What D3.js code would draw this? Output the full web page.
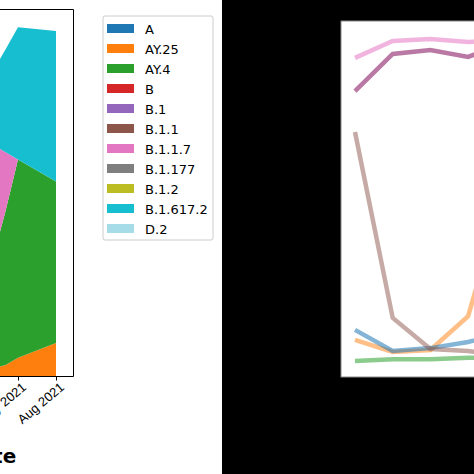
<!DOCTYPE html>
<html><head><meta charset="utf-8">
<script src="https://cdn.jsdelivr.net/npm/d3@7"></script>
<style>body{margin:0;background:#000}svg{display:block;font-family:"DejaVu Sans",sans-serif}</style>
</head><body><svg id="c" width="474" height="474"></svg>
<script>
// Left panel: stacked areas (cropped)
const lineages = ["A","AY.25","AY.4","B","B.1","B.1.1","B.1.1.7","B.1.177","B.1.2","B.1.617.2","D.2"];
const colors = ["#1f77b4","#ff7f0e","#2ca02c","#d62728","#9467bd","#8c564b","#e377c2","#7f7f7f","#bcbd22","#17becf","#a6dce8"];
const dates = ["2021-03-01","2021-04-01","2021-05-01","2021-08-01"];
const valA     = [0,0,0,0];
const valAY25  = [2,3,5,9];
const valAY4   = [30,42,54,44];
const valB     = [0,0,0,0];
const valB1    = [0,0,0,0];
const valB11   = [0,0,0,0];
const valB117  = [31,16,0,0];
const valB1177 = [0,0,0,0];
const valB12   = [0,0,0,0];
const valB16172= [20,28,36,41];
const valD2    = [0,0,0,0];
const tickDates = ["2021-02-01","2021-05-01","2021-08-01"];
const tickLabels = ["Feb 2021","May 2021","Aug 2021"];

// Right panel: lines (cropped)
const rIdx = [0,1,2,3,4];
const rLightPink = [94.5,99.7,100.3,99.4,100];
const rDarkPink  = [84.3,95.7,96.9,94.8,99];
const rBrown     = [71.7,14.5,4.9,4.3,3];
const rBlue      = [10.8,4.3,5.2,7.1,10];
const rOrange    = [7.7,4.0,4.6,15,55];
const rGreen     = [1.2,1.8,1.8,2.2,2.5];

const svg = d3.select("#c");
svg.append("rect").attr("x",0).attr("y",0).attr("width",222).attr("height",474).attr("fill","#fff");

const parse = d3.timeParse("%Y-%m-%d");
const x = d3.scaleTime().domain([parse("2021-05-01"),parse("2021-08-01")]).range([18,56]);
const y = d3.scaleLinear().domain([0,100]).range([376,9]);
const series = [valA,valAY25,valAY4,valB,valB1,valB11,valB117,valB1177,valB12,valB16172,valD2];
const rows = dates.map((d,i)=>{const o={date:parse(d)};lineages.forEach((l,j)=>o[l]=series[j][i]);return o;});
const stack = d3.stack().keys(lineages)(rows);
const gL = svg.append("g");
gL.append("defs").append("clipPath").attr("id","clipL").append("rect").attr("x",0).attr("y",9).attr("width",73).attr("height",367);
const area = d3.area().x(d=>x(d.data.date)).y0(d=>y(d[0])).y1(d=>y(d[1]));
gL.append("g").attr("clip-path","url(#clipL)").selectAll("path").data(stack).join("path")
  .attr("d",area).attr("fill",(d,i)=>colors[i]);
gL.append("path").attr("d","M0,9.5H73.5V376.5H0").attr("fill","none").attr("stroke","#000").attr("stroke-width",1);
const ax = d3.axisBottom(x).tickValues(tickDates.map(parse)).tickFormat((d,i)=>tickLabels[i]).tickSize(4);
const axG = gL.append("g").attr("transform","translate(0,376.5)").call(ax);
axG.select(".domain").remove();
axG.selectAll("text").attr("font-size",13).attr("text-anchor","end").attr("dx","-0.1em").attr("dy","0.6em")
  .attr("transform","rotate(-40)").attr("fill","#000");
gL.append("text").attr("x",-37).attr("y",463).attr("font-size",20).attr("font-weight","bold").text("Date");

// legend
const lg = svg.append("g").attr("transform","translate(103,16)");
lg.append("rect").attr("x",0).attr("y",0).attr("width",110).attr("height",224).attr("rx",2)
  .attr("fill","#fff").attr("stroke","#ccc");
lineages.forEach((l,i)=>{
  const gy = 13 + i*20;
  lg.append("rect").attr("x",4).attr("y",gy-5).attr("width",27).attr("height",9).attr("fill",colors[i]);
  lg.append("text").attr("x",42).attr("y",gy+5).attr("font-size",13).text(l);
});

// right panel
svg.append("rect").attr("x",341).attr("y",21).attr("width",140).attr("height",356).attr("fill","#fff").attr("stroke","#888");
const xr = d3.scaleLinear().domain([0,1]).range([355,392.7]);
const yr = d3.scaleLinear().domain([0,100]).range([365,40]);
const gR = svg.append("g");
gR.append("defs").append("clipPath").attr("id","clipR").append("rect").attr("x",341).attr("y",21).attr("width",140).attr("height",356);
const lineSeries = [
  [rGreen,"#2ca02c",0.55],[rOrange,"#ff7f0e",0.5],[rBlue,"#1f77b4",0.55],
  [rBrown,"#8c564b",0.5],[rLightPink,"#e377c2",0.55],[rDarkPink,"#9c3f7e",0.7]];
const line = d3.line().x((d,i)=>xr(rIdx[i])).y(d=>yr(d));
gR.append("g").attr("clip-path","url(#clipR)").selectAll("path").data(lineSeries).join("path")
  .attr("d",d=>line(d[0])).attr("fill","none").attr("stroke",d=>d[1]).attr("stroke-opacity",d=>d[2])
  .attr("stroke-width",4.5);
</script></body></html>
